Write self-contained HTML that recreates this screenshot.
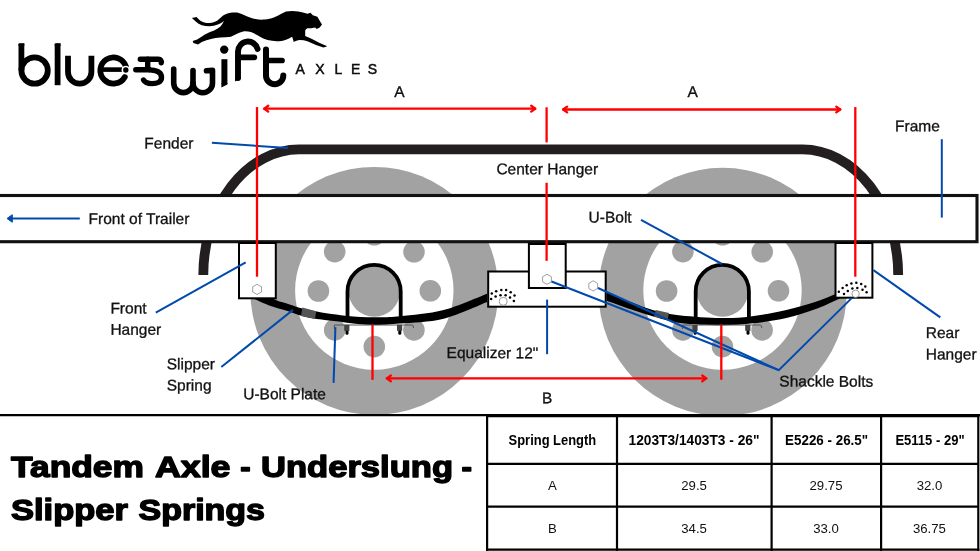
<!DOCTYPE html>
<html><head><meta charset="utf-8">
<style>
html,body{margin:0;padding:0;background:#fff;}
body{width:980px;height:551px;overflow:hidden;font-family:"Liberation Sans",sans-serif;}
svg{display:block;position:absolute;left:0;top:0;will-change:transform;}
text{font-family:"Liberation Sans",sans-serif;fill:#111;}
.lb{font-size:15.5px;stroke:#111;stroke-width:0.3px;}
.th text{font-size:14.6px;font-weight:bold;fill:#000;}
.td text{font-size:13.2px;text-anchor:middle;fill:#111;}
.ttl{font-size:30px;font-weight:bold;fill:#000;stroke:#000;stroke-width:1.4px;stroke-linejoin:round;}
</style></head>
<body>
<svg width="980" height="551" viewBox="0 0 980 551">
<rect width="980" height="551" fill="#fff"/>

<!-- WHEELS -->
<circle cx="374.3" cy="290.9" r="124" fill="#a2a2a2"/>
<circle cx="722.6" cy="291.9" r="124.1" fill="#a2a2a2"/>
<g id="wheelL">
  <circle cx="374.3" cy="290.5" r="79.2" fill="#fff"/>
  <g fill="#a2a2a2">
    <circle cx="374.3" cy="291" r="25.8"/>
    <circle cx="374.3" cy="234.8" r="10.8"/>
    <circle cx="374.3" cy="346.6" r="10.8"/>
    <circle cx="318.4" cy="291" r="10.8"/>
    <circle cx="430.3" cy="290.8" r="10.8"/>
    <circle cx="334.7" cy="251.6" r="10.8"/>
    <circle cx="414" cy="251.8" r="10.8"/>
    <circle cx="334.7" cy="329.9" r="10.8"/>
    <circle cx="413.9" cy="329.9" r="10.8"/>
  </g>
</g>
<use href="#wheelL" x="348.2"/>

<!-- FENDER -->
<path d="M203.3,275 L203.3,275 A96,125.6 0 0 1 299,149.4 L802.5,149.4 A96,125.6 0 0 1 898.2,275" fill="none" stroke="#231f20" stroke-width="9.8"/>

<!-- FRAME -->
<rect x="-5" y="195.5" width="982" height="46.2" fill="#fff" stroke="#111" stroke-width="3.1"/>

<!-- SPRINGS (drawn before hangers) -->
<path id="springL" d="M264.0,294.0 C266.1,295.0 272.6,298.7 276.3,300.2 C280.0,301.7 280.6,301.6 286.0,303.2 C291.4,304.8 298.6,307.9 308.5,310.0 C318.4,312.1 334.3,314.5 345.2,315.7 C356.1,316.9 364.9,317.2 374.0,317.3 C383.1,317.4 388.4,317.5 400.0,316.3 C411.6,315.1 429.1,313.9 443.6,310.1 C458.1,306.3 479.9,296.4 487.2,293.7 L487.2,302.1 C479.9,304.9 458.1,315.2 443.6,318.8 C429.1,322.4 411.6,322.6 400.0,323.6 C388.4,324.6 383.1,325.2 374.0,325.0 C364.9,324.8 356.1,323.6 345.2,322.4 C334.3,321.2 318.4,319.6 308.5,317.6 C298.6,315.6 292.4,312.6 286.0,310.6 C279.6,308.6 275.5,307.8 270.0,305.8 C264.5,303.8 255.8,299.6 253.0,298.4 Z" fill="#000"/>
<path d="M302.4,307.6 L316.2,311.2 L315,319.1 L301,316 Z" fill="#555"/>
<path id="springR" d="M606.7,292.1 C610.7,293.8 622.7,299.0 630.7,302.1 C638.8,305.2 646.7,308.5 655.0,310.7 C663.3,312.9 669.8,314.2 680.7,315.4 C691.7,316.6 709.0,317.7 720.7,317.9 C732.4,318.1 739.8,317.7 750.7,316.4 C761.7,315.1 775.7,312.4 786.4,310.0 C797.1,307.6 806.9,304.7 815.0,302.1 C823.1,299.5 829.8,296.4 835.0,294.3 C840.2,292.2 844.2,290.3 846.0,289.5 L842.0,297.5 C840.8,298.0 839.5,298.7 835.0,300.7 C830.5,302.7 823.1,306.4 815.0,309.3 C806.9,312.2 797.1,315.5 786.4,317.9 C775.7,320.3 761.7,322.4 750.7,323.6 C739.8,324.8 732.4,325.3 720.7,325.2 C709.0,325.1 691.7,324.3 680.7,322.9 C669.8,321.5 663.3,319.2 655.0,316.9 C646.7,314.6 638.8,312.0 630.7,309.3 C622.7,306.6 610.7,302.1 606.7,300.7 Z" fill="#000"/>
<path d="M655.7,310 L669,312.9 L667.6,319.7 L654,316.4 Z" fill="#555"/>

<!-- U-BOLTS -->
<g id="ubolt">
  <path d="M347.5,321 L347.5,291.4 A26.6,26.6 0 0 1 400.7,291.4 L400.7,321" fill="none" stroke="#000" stroke-width="3.8"/>
  <path d="M334.4,329 L334.4,325 L412,325 Q413.6,325 413.6,328" fill="none" stroke="#555" stroke-width="1"/>
  <rect x="344.2" y="324.8" width="5.2" height="6" fill="#444"/>
  <rect x="397" y="324.8" width="5.2" height="6" fill="#444"/>
  <path d="M345.5,330.5 h3 v2.8 a1.5,1.5 0 0 1 -3,0 Z" fill="#000"/>
  <path d="M398.3,330.5 h3 v2.8 a1.5,1.5 0 0 1 -3,0 Z" fill="#000"/>
</g>
<use href="#ubolt" x="348.2"/>

<!-- HANGERS -->
<rect x="239" y="243" width="36.8" height="55.3" fill="#fff" stroke="#000" stroke-width="2"/>
<rect x="835.5" y="243" width="36.9" height="54.7" fill="#fff" stroke="#000" stroke-width="2"/>
<rect x="488.2" y="271.5" width="117.5" height="35.2" fill="#fff" stroke="#000" stroke-width="2"/>
<rect x="528.9" y="244" width="36.8" height="44" fill="#fff" stroke="#000" stroke-width="2"/>

<!-- hex bolts -->
<g fill="#fff" stroke="#777" stroke-width="0.7">
  <path id="hex" d="M257.1,284.3 L261.5,286.85 L261.5,291.95 L257.1,294.5 L252.7,291.95 L252.7,286.85 Z"/>
  <use href="#hex" x="289.9" y="-10.1"/>
  <use href="#hex" x="336.1" y="-3.5"/>
  <circle cx="503.2" cy="301.3" r="4"/>
  <circle cx="855.6" cy="293.8" r="3.7"/>
</g>
<g fill="#000">
  <circle cx="491.8" cy="293.4" r="1.25"/><circle cx="496.2" cy="291.2" r="1.25"/><circle cx="501.3" cy="290.1" r="1.25"/><circle cx="506.1" cy="290.1" r="1.25"/><circle cx="510.7" cy="292.3" r="1.25"/><circle cx="514.5" cy="295.6" r="1.25"/>
  <circle cx="491.1" cy="298.9" r="1.25"/><circle cx="495.6" cy="296.6" r="1.25"/><circle cx="500.5" cy="295.2" r="1.25"/><circle cx="505.6" cy="295.2" r="1.25"/><circle cx="510" cy="297.5" r="1.25"/><circle cx="513.9" cy="301" r="1.25"/>
  <circle cx="838.8" cy="291.7" r="1.25"/><circle cx="842.6" cy="288.1" r="1.25"/><circle cx="846.7" cy="285.3" r="1.25"/><circle cx="851.4" cy="283.4" r="1.25"/><circle cx="856.3" cy="282.7" r="1.25"/><circle cx="861.2" cy="284" r="1.25"/><circle cx="865.3" cy="286.5" r="1.25"/>
  <circle cx="844" cy="294.1" r="1.25"/><circle cx="847.8" cy="291" r="1.25"/><circle cx="852.4" cy="288.6" r="1.25"/><circle cx="857.3" cy="288.1" r="1.25"/><circle cx="862.5" cy="289.7" r="1.25"/><circle cx="866.6" cy="292.2" r="1.25"/>
</g>

<!-- BLUE LINES -->
<g stroke="#004aad" stroke-width="2" fill="none">
  <line x1="211.9" y1="142.7" x2="287.8" y2="148"/>
  <line x1="10" y1="218.5" x2="79.8" y2="218.5"/>
  <line x1="941.8" y1="139.2" x2="941.8" y2="217.6"/>
  <line x1="641" y1="219.9" x2="722" y2="264"/>
  <line x1="155.8" y1="312.6" x2="245.7" y2="262.3"/>
  <line x1="221.3" y1="367" x2="293" y2="309.9"/>
  <line x1="333.6" y1="382.9" x2="335.4" y2="327.1"/>
  <line x1="547.1" y1="299.6" x2="547.1" y2="354.2"/>
  <line x1="873.4" y1="270.1" x2="940.3" y2="317.4"/>
  <polyline points="551.5,281.5 778.8,370.2 851.9,297.9"/>
  <line x1="598" y1="288" x2="778.8" y2="370.2"/>
</g>
<path d="M7,218.5 L12.3,214.7 L12.3,222.3 Z" fill="#004aad" stroke="#004aad" stroke-width="1" stroke-linejoin="round"/>

<!-- RED LINES -->
<g stroke="#ff0000" stroke-width="2.3" fill="none">
  <line x1="257" y1="107.1" x2="257" y2="276.7"/>
  <line x1="546.6" y1="107.3" x2="546.6" y2="142.4"/>
  <line x1="546.6" y1="182.8" x2="546.6" y2="260.8"/>
  <line x1="855.3" y1="107.1" x2="855.3" y2="276.7"/>
  <line x1="372.5" y1="324.8" x2="372.5" y2="379.8"/>
  <line x1="721.3" y1="324.8" x2="721.3" y2="379.8"/>
</g>
<g stroke="#ff0000" stroke-width="2.3" fill="none" stroke-linecap="round" stroke-linejoin="round">
  <line x1="264.25" y1="108.70" x2="535.20" y2="108.70"/>
  <polyline points="268.25,105.80 264.25,108.70 268.25,111.60"/>
  <polyline points="531.20,105.80 535.20,108.70 531.20,111.60"/>
  <line x1="563.15" y1="109.50" x2="840.25" y2="109.50"/>
  <polyline points="567.15,106.60 563.15,109.50 567.15,112.40"/>
  <polyline points="836.25,106.60 840.25,109.50 836.25,112.40"/>
  <line x1="386.85" y1="378.40" x2="706.25" y2="378.40"/>
  <polyline points="390.85,375.50 386.85,378.40 390.85,381.30"/>
  <polyline points="702.25,375.50 706.25,378.40 702.25,381.30"/>
</g>

<!-- LABELS -->
<g class="lb">
  <text transform="translate(394.2,97.1) rotate(0.03)">A</text>
  <text transform="translate(687.4,97.1) rotate(0.03)">A</text>
  <text transform="translate(144.3,148.4) rotate(0.03)">Fender</text>
  <text transform="translate(895.0,131.3) rotate(0.03)">Frame</text>
  <text transform="translate(496.4,174.3) rotate(0.03)">Center Hanger</text>
  <text transform="translate(88.6,223.9) rotate(0.03)">Front of Trailer</text>
  <text transform="translate(588.6,222.6) rotate(0.03)">U-Bolt</text>
  <text transform="translate(110.4,313.5) rotate(0.03)">Front</text>
  <text transform="translate(110.4,334.7) rotate(0.03)">Hanger</text>
  <text transform="translate(166.7,369.2) rotate(0.03)">Slipper</text>
  <text transform="translate(166.7,390.4) rotate(0.03)">Spring</text>
  <text transform="translate(243.2,399.2) rotate(0.03)">U-Bolt Plate</text>
  <text transform="translate(446.6,358.1) rotate(0.03)">Equalizer 12"</text>
  <text transform="translate(542.0,403.3) rotate(0.03)">B</text>
  <text transform="translate(779.3,386.6) rotate(0.03)">Shackle Bolts</text>
  <text transform="translate(925.8,338.1) rotate(0.03)">Rear</text>
  <text transform="translate(925.8,359.6) rotate(0.03)">Hanger</text>
</g>

<!-- TABLE -->
<rect x="486" y="414" width="494" height="137" fill="#fff"/>
<line x1="0" y1="415.1" x2="980" y2="415.1" stroke="#000" stroke-width="2.4"/>
<g stroke="#000" fill="none" stroke-width="2.2">
  <line x1="486" y1="416.2" x2="979.4" y2="416.2"/>
  <line x1="487.1" y1="415" x2="487.1" y2="551"/>
  <line x1="978.3" y1="415" x2="978.3" y2="551"/>
  <line x1="486" y1="549.6" x2="979.4" y2="549.6"/>
  <line x1="617" y1="415" x2="617" y2="551"/>
  <line x1="771.6" y1="415" x2="771.6" y2="551"/>
  <line x1="881.1" y1="415" x2="881.1" y2="551"/>
  <line x1="486" y1="463.9" x2="979" y2="463.9"/>
  <line x1="486" y1="506.6" x2="979" y2="506.6"/>
</g>
<g class="th">
<text x="508.6" y="444.8" textLength="87.6" lengthAdjust="spacingAndGlyphs">Spring Length</text>
<text x="628.5" y="444.8" textLength="131" lengthAdjust="spacingAndGlyphs">1203T3/1403T3 - 26"</text>
<text x="785.1" y="444.8" textLength="83" lengthAdjust="spacingAndGlyphs">E5226 - 26.5"</text>
<text x="895.4" y="444.8" textLength="69.2" lengthAdjust="spacingAndGlyphs">E5115 - 29"</text>
</g>
<g class="td">
<text x="552.3" y="490.4">A</text>
<text x="694.1" y="490.4">29.5</text>
<text x="826" y="490.4">29.75</text>
<text x="929.5" y="490.4">32.0</text>
<text x="552.3" y="533">B</text>
<text x="694.1" y="533">34.5</text>
<text x="826" y="533">33.0</text>
<text x="929.4" y="533">36.75</text>
</g>

<!-- TITLE -->
<text class="ttl" x="11.0" y="477.2" textLength="133.0" lengthAdjust="spacingAndGlyphs">Tandem</text>
<text class="ttl" x="155.0" y="477.2" textLength="75.5" lengthAdjust="spacingAndGlyphs">Axle</text>
<text class="ttl" x="240.3" y="477.2" textLength="10.4" lengthAdjust="spacingAndGlyphs">-</text>
<text class="ttl" x="261.0" y="477.2" textLength="192.0" lengthAdjust="spacingAndGlyphs">Underslung</text>
<text class="ttl" x="461.4" y="477.2" textLength="10.5" lengthAdjust="spacingAndGlyphs">-</text>
<text class="ttl" x="11.0" y="519.8" textLength="117.0" lengthAdjust="spacingAndGlyphs">Slipper</text>
<text class="ttl" x="138.5" y="519.8" textLength="126.5" lengthAdjust="spacingAndGlyphs">Springs</text>

<!-- LOGO -->
<g id="logo" fill="none" stroke="#000" stroke-width="5.8" stroke-linecap="round" stroke-linejoin="round">
  <!-- b -->
  <path d="M21.4,43.6 L21.4,70.5" stroke-linecap="butt"/>
  <path d="M19.6,43.2 L24.3,43.2 L24.3,46 L18.5,46 L18.5,44.3 Z" fill="#000" stroke="none"/>
  <circle cx="34.6" cy="70.5" r="13.2"/>
  <!-- l -->
  <path d="M57.6,43.6 L57.6,85.2" stroke-linecap="butt"/>
  <path d="M55.8,43.2 L60.5,43.2 L60.5,46 L54.7,46 L54.7,44.3 Z" fill="#000" stroke="none"/>
  <!-- u -->
  <path d="M68,55.8 L68,72 A11.7,11.7 0 0 0 91.4,72 L91.4,55.8" stroke-linecap="butt"/>
  <!-- e -->
  <path d="M125.9,66.5 A13.1,13.1 0 1 0 124.8,77"/>
  <path d="M101,69.6 L122,69.6" stroke-width="4.6" stroke-linecap="butt"/>
  <!-- hyphen -->
  <path d="M135.8,69.7 L149,69.7" stroke-width="5.4"/>
  <!-- s -->
  <path d="M140.3,59.2 L158.3,59.2 Q161.6,59.4 161.3,62.8" stroke-width="5.4"/>
  <path d="M147.7,59.2 L147.7,66.5 Q147.7,69.9 151.5,70.1 C156.5,70.4 161.5,72.3 161.5,77.4 C161.5,81.8 157.2,83.6 152,83.6 C147.8,83.6 144.8,82.3 143.6,80" stroke-width="5.4"/>
  <!-- w -->
  <path d="M173.7,69 L173.7,83 A9.65,9.65 0 0 0 193,83 L193,70.5" stroke-width="5.6"/>
  <path d="M193,83 A9.75,9.75 0 0 0 212.5,83 L212.5,70.4 L206.5,70.8" stroke-width="5.6"/>
  <!-- i -->
  <path d="M224.4,59.2 L224.4,84" stroke-width="6" stroke-linecap="butt"/>
  <!-- f -->
  <path d="M238,78 L238,51.5 A10,10.3 0 0 1 257.6,49" stroke-width="5.9"/>
  <path d="M238,57.3 L254.3,57.3" stroke-width="5.7"/>
  <!-- t -->
  <path d="M266,49.6 L266,75.6 A8.65,8.65 0 0 0 283.3,75.6" stroke-width="6"/>
  <path d="M266,60.5 L282,60.5" stroke-width="5.7"/>
</g>
<circle cx="125.8" cy="70" r="4.3" fill="#fff"/>
<circle cx="125.8" cy="70" r="2.7" fill="#000"/>
<circle cx="224.2" cy="49.6" r="4.2" fill="#000"/>
<path d="M221.4,83 L227.4,83 L227.4,84.5 L221.4,87.5 Z" fill="#000"/>
<path d="M235.05,77 L240.95,77 L240.95,78.5 L235.05,81.5 Z" fill="#000"/>
<g font-size="14" text-anchor="middle" fill="#000" stroke="#000" stroke-width="0.45" style="font-family:'Liberation Sans',sans-serif">
  <text x="300.1" y="73.8">A</text><text x="319.8" y="73.8">X</text><text x="338.5" y="73.8">L</text><text x="355.7" y="73.8">E</text><text x="372.3" y="73.8">S</text>
</g>
<!-- cheetah -->
<path d="M191.9,18.1 L196.5,17.1 C198.5,19.5 200,20.8 201.8,21.4 C204.5,22.8 207,23.1 209.5,23 C212.5,22.7 215,22 217.1,20.7 C219,19.4 220.5,17.8 222.5,16.1 C224.5,14.5 226.5,13.6 229.4,13 C232,12.5 234.5,12.4 237,12.6 C240.5,13.3 243,14.8 246.200,16.1 C249.5,17.4 252,18.4 255.4,19.1 C258.5,19.7 261.5,19.8 264.6,19.6 C268,19.2 271,18.6 273.8,17.600 C276.5,16.5 279,15.2 281.4,13.8 L286,11.5 C290,10.8 294.5,10.8 298.3,11.5 C301.5,12 304.500,12.800 307.5,13.800 L310.5,12.700 L312.8,15.3 L317.4,16.8 L319.7,20.7 L322,24.5 L319.7,27.6 L316.600,29.100 L315.100,27.600 L311.3,28.3 L307.4,28.300 C306.2,29 305.500,29.800 305.2,30.6 L305.200,36 C307.5,37 310,38.100 312,39 L319.7,42.9 L327.300,46.200 L323.500,47.500 L316.600,45.200 L307.400,41.300 C305,40.500 302.500,40.100 299.800,40.100 C297.500,40.400 295.500,41.200 293.700,42.100 C293.300,40.100 292.800,38.300 292.100,36.700 C290,38.100 288,39.200 286,39.800 C283,40.800 280,41.300 276.800,41.300 C273.500,41.200 270.500,40.800 267.700,40.100 C265,39.300 262.500,38.100 260,36.700 C257,35 254,33.300 250.800,32.100 C248.300,31.300 245.700,31.100 243.200,31.400 C240.500,32.100 238,33.200 235.500,34.400 L230.900,36.700 C227.500,37.200 224,37.300 220.200,37.500 C217,37.800 214,38.300 211,39 C208,39.800 204.800,40.800 201.800,42.100 L198,44.400 L193.400,42.900 L192.700,41 L197.200,39.500 C199.800,37.900 202.400,36.100 204.900,34.400 C207.900,32.900 211,31.700 214.100,30.600 C216.300,29.500 218.400,28.200 220.200,26.800 C221.800,24.900 223.100,22.900 224,20.700 C222.200,22.400 220.200,23.700 217.900,24.500 C215.200,25.500 212.400,26.100 209.500,26.300 C206.800,26.300 204.200,26 201.800,25.300 C199.500,24.400 197.500,23.100 195.700,21.400 Z" fill="#000"/>
</svg>
</body></html>
